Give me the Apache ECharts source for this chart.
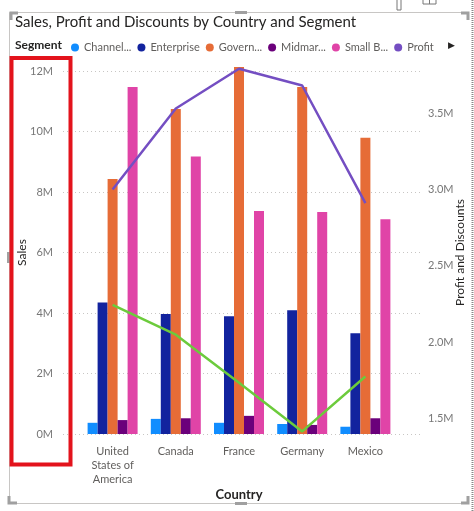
<!DOCTYPE html>
<html>
<head>
    <meta charset="utf-8" />
    <script src="https://cdn.jsdelivr.net/npm/echarts@6/dist/echarts.min.js"></script>
    <style>
        html, body { margin: 0; padding: 0; background: #fff; }
    </style>
</head>
<body>
    <div id="main" style="width: 474px;height: 511px;"></div>

    <script type="text/javascript">
        var chartDom = document.getElementById('main');
        var myChart = echarts.init(chartDom);
        var option;

        // values (sales in dollars)
        var countries = ['United States of America', 'Canada', 'France', 'Germany', 'Mexico'];
        var channelPartners = [370000, 500000, 370000, 330000, 240000];
        var enterprise = [4350000, 3970000, 3890000, 4090000, 3330000];
        var government = [8430000, 10740000, 12130000, 11470000, 9790000];
        var midmarket = [460000, 520000, 600000, 300000, 520000];
        var smallBusiness = [11470000, 9170000, 7370000, 7340000, 7100000];
        var profit = [3000000, 3530000, 3790000, 3680000, 2910000];
        var discounts = [2245000, 2050000, 1735000, 1417000, 1776000];

        var segmentNames = ['Channel Partners', 'Enterprise', 'Government', 'Midmarket', 'Small Business'];
        var legendShort = {
            'Channel Partners': 'Channel...',
            'Enterprise': 'Enterprise',
            'Government': 'Govern...',
            'Midmarket': 'Midmar...',
            'Small Business': 'Small B...',
            'Profit': 'Profit'
        };
        var countryLabels = {
            'United States of America': 'United\nStates of\nAmerica'
        };

        var FONT = 'Lato';
        var colors = ['#118DFF', '#12239E', '#E66C37', '#6B007B', '#E044A7'];
        var segmentData = [channelPartners, enterprise, government, midmarket, smallBusiness];

        var series = segmentNames.map(function (name, i) {
            return {
                name: name,
                type: 'bar',
                xAxisIndex: 0,
                yAxisIndex: 0,
                barWidth: 10,
                barGap: '0%',
                clip: false,
                itemStyle: { color: colors[i] },
                data: segmentData[i]
            };
        });
        series.push({
            name: 'Profit',
            type: 'line',
            xAxisIndex: 0,
            yAxisIndex: 1,
            showSymbol: false,
            clip: false,
            lineStyle: { color: '#744EC2', width: 2.5 },
            itemStyle: { color: '#744EC2' },
            data: profit
        });
        series.push({
            name: 'Discounts',
            type: 'line',
            xAxisIndex: 0,
            yAxisIndex: 1,
            showSymbol: false,
            clip: false,
            lineStyle: { color: '#6CCB3C', width: 2.5 },
            itemStyle: { color: '#6CCB3C' },
            data: discounts
        });

        function isHalfMillion(v) {
            var k = v / 500000;
            return Math.abs(k - Math.round(k)) < 1e-6;
        }

        option = {
            animation: false,
            textStyle: { fontFamily: FONT },
            title: {
                text: 'Sales, Profit and Discounts by Country and Segment',
                left: 10,
                top: 10,
                textStyle: { fontFamily: FONT, fontSize: 15, fontWeight: 'normal', color: '#252423' }
            },
            legend: {
                left: 66,
                top: 37,
                icon: 'circle',
                itemWidth: 8,
                itemHeight: 8,
                itemGap: 6,
                width: 390,
                data: segmentNames.concat(['Profit']),
                formatter: function (n) { return legendShort[n]; },
                textStyle: { fontFamily: FONT, fontSize: 11, color: '#605E5C' }
            },
            grid: [
                { left: 81, right: 75, top: 71, bottom: 77 },
                { left: 63, right: 52, top: 71, bottom: 77 }
            ],
            xAxis: [
                {
                    type: 'category',
                    gridIndex: 0,
                    data: countries,
                    name: 'Country',
                    nameLocation: 'middle',
                    nameGap: 54,
                    nameMoveOverlap: false,
                    nameTextStyle: { fontFamily: FONT, fontSize: 13, fontWeight: 'bold', color: '#252423' },
                    axisLine: { show: false },
                    axisTick: { show: false },
                    axisLabel: {
                        margin: 10,
                        fontSize: 11,
                        lineHeight: 14,
                        color: '#605E5C',
                        formatter: function (v) { return countryLabels[v] || v; }
                    }
                },
                { type: 'category', gridIndex: 1, show: false, data: countries }
            ],
            yAxis: [
                {
                    type: 'value',
                    gridIndex: 0,
                    min: 0,
                    max: 12000000,
                    interval: 2000000,
                    name: 'Sales',
                    nameLocation: 'middle',
                    nameRotate: 90,
                    nameGap: 53,
                    nameMoveOverlap: false,
                    nameTextStyle: { fontFamily: FONT, fontSize: 12, color: '#252423' },
                    axisLine: { show: false },
                    axisTick: { show: false },
                    splitLine: { show: false },
                    axisLabel: {
                        margin: 28,
                        fontSize: 11,
                        color: '#777777',
                        formatter: function (v) { return (v / 1000000) + 'M'; }
                    }
                },
                {
                    type: 'value',
                    gridIndex: 0,
                    position: 'right',
                    min: 1400000,
                    max: 3775000,
                    interval: 100000,
                    name: 'Profit and Discounts',
                    nameLocation: 'middle',
                    nameRotate: 90,
                    nameGap: 57,
                    nameMoveOverlap: false,
                    nameTextStyle: { fontFamily: FONT, fontSize: 12, color: '#252423' },
                    axisLine: { show: false },
                    axisTick: { show: false },
                    splitLine: { show: false },
                    axisLabel: {
                        margin: 31,
                        fontSize: 11,
                        color: '#777777',
                        formatter: function (v) {
                            return isHalfMillion(v) ? (v / 1000000).toFixed(1) + 'M' : '';
                        }
                    }
                },
                {
                    // dotted gridlines that run a bit wider than the category band
                    type: 'value',
                    gridIndex: 1,
                    min: 0,
                    max: 12000000,
                    interval: 2000000,
                    axisLine: { show: false },
                    axisTick: { show: false },
                    axisLabel: { show: false },
                    splitLine: { lineStyle: { type: [1, 3], color: '#C8C6C4', width: 1 } }
                }
            ],
            graphic: [
                // visual frame
                { type: 'line', shape: { x1: 9.5, y1: 12.5, x2: 469, y2: 12.5 }, style: { stroke: '#C8C6C4', lineWidth: 1 } },
                { type: 'line', shape: { x1: 9.5, y1: 12.5, x2: 9.5, y2: 503.5 }, style: { stroke: '#C8C6C4', lineWidth: 1 } },
                { type: 'line', shape: { x1: 9.5, y1: 503.5, x2: 469, y2: 503.5 }, style: { stroke: '#C8C6C4', lineWidth: 1 } },
                { type: 'line', shape: { x1: 472.5, y1: 0, x2: 472.5, y2: 511 }, style: { stroke: '#888888', lineWidth: 2, lineDash: [1, 1] } },
                // resize handles
                { type: 'polyline', shape: { points: [[11, 20], [11, 13], [18, 13]] }, style: { stroke: '#A0A0A0', lineWidth: 3, fill: null } },
                { type: 'polyline', shape: { points: [[461, 13], [468, 13], [468, 20]] }, style: { stroke: '#A0A0A0', lineWidth: 3, fill: null } },
                { type: 'polyline', shape: { points: [[9, 496], [9, 503], [17, 503]] }, style: { stroke: '#A0A0A0', lineWidth: 3, fill: null } },
                { type: 'polyline', shape: { points: [[461, 503], [468, 503], [468, 496]] }, style: { stroke: '#A0A0A0', lineWidth: 3, fill: null } },
                { type: 'rect', shape: { x: 235, y: 11, width: 12, height: 3 }, style: { fill: '#A0A0A0' } },
                { type: 'rect', shape: { x: 235, y: 502, width: 12, height: 3 }, style: { fill: '#A0A0A0' } },
                { type: 'rect', shape: { x: 7, y: 252, width: 3, height: 11 }, style: { fill: '#A0A0A0' } },
                // header icons
                { type: 'rect', shape: { x: 397, y: -2, width: 4, height: 12 }, style: { stroke: '#777777', fill: null, lineWidth: 1 } },
                { type: 'rect', shape: { x: 423, y: -2, width: 13, height: 6 }, style: { stroke: '#777777', fill: null, lineWidth: 1 } },
                { type: 'line', shape: { x1: 429.5, y1: -2, x2: 429.5, y2: 4 }, style: { stroke: '#777777', lineWidth: 1 } },
                // legend title and scroll arrow
                { type: 'text', left: 15, top: 39, style: { text: 'Segment', font: 'bold 12px Lato', fill: '#252423' } },
                { type: 'text', left: 448, top: 41, style: { text: '▶', font: '9px "DejaVu Sans"', fill: '#252423' } },
                // red highlight box
                { type: 'rect', z: 100, shape: { x: 11.5, y: 58, width: 59, height: 406.5 }, style: { stroke: '#E3131C', fill: null, lineWidth: 4 } }
            ],
            series: series
        };

        option && myChart.setOption(option);
    </script>
</body>
</html>
